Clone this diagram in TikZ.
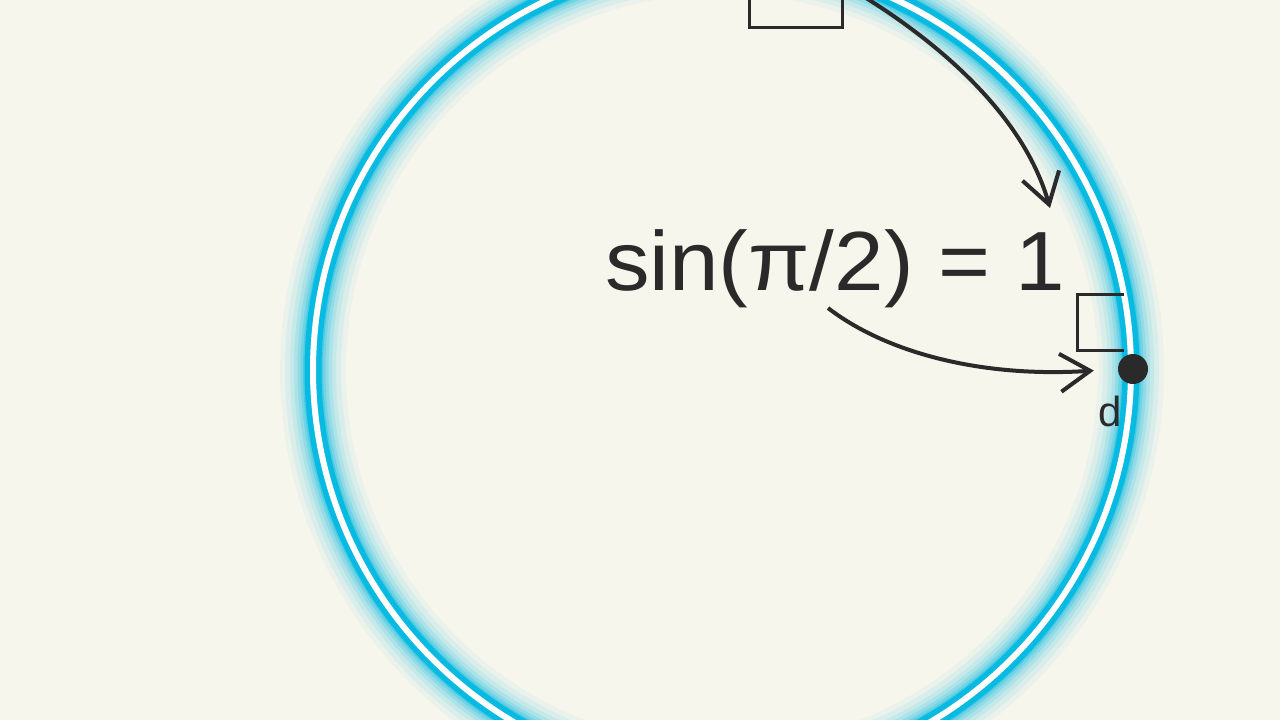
\documentclass[tikz,border=0pt]{standalone}
\usepackage{fontspec}
\setmainfont{Liberation Sans}
\usetikzlibrary{arrows.meta}
\definecolor{bg}{RGB}{247,246,236}
\definecolor{glow}{RGB}{0,185,225}
\definecolor{ink}{RGB}{42,42,42}
\tikzset{
  sqbox/.style={rectangle, inner sep=0pt, line width=3pt, draw=ink},
  arr/.style={draw=ink, line width=4pt, -{Straight Barb[length=30pt,width=38pt,line width=4pt]}},
}
\begin{document}
\begin{tikzpicture}[x=1pt,y=-1pt]
\useasboundingbox (0,0) rectangle (1280,720);
\clip (0,0) rectangle (1280,720);
\fill[bg] (0,0) rectangle (1280,720);
% glowing ring
\foreach \w/\o in {66/0.05,56/0.07,46/0.09,38/0.12,31/0.16,25/0.22,20/0.32} {
  \draw[glow, line width=\w pt, opacity=\o] (722,370) circle[radius=409];
}
\draw[glow, line width=17pt, opacity=0.9] (722,370) circle[radius=409];
\draw[white, line width=6pt] (722,370) circle[radius=409];
% top box
\node[sqbox, minimum width=93pt, minimum height=60pt] (topbox) at (795.5,-3) {};
% small box near the dot (right side hidden by the ring)
\node[rectangle, inner sep=0pt, minimum width=46pt, minimum height=55pt] (sq) at (1101,322.5) {};
\draw[ink, line width=3pt] (sq.north east) -- (sq.north west) -- (sq.south west) -- (sq.south east);
% equation
\node[anchor=base, text=ink, inner sep=0pt] (eq) at (835,290)
  {\scalebox{1.06}[1]{\fontsize{84}{100}\selectfont sin(π/2) = 1}};
% dot
\node[circle, fill=ink, inner sep=0pt, minimum size=30pt] (dot) at (1133,369) {};
\node[text=ink, inner sep=0pt, anchor=base] (d) at (1110,426) {\fontsize{42}{50}\selectfont d};
% arrows
\coordinate (a1s) at ([xshift=21pt]topbox.east);
\coordinate (a1e) at (1050,208);
\draw[arr] (a1s) .. controls (948,49) and (1025,120) .. (a1e);
\coordinate (a2s) at (828,308);
\draw[arr, shorten >=24pt] (a2s) .. controls (885,352) and (980,378) .. (dot.west);
\end{tikzpicture}
\end{document}
